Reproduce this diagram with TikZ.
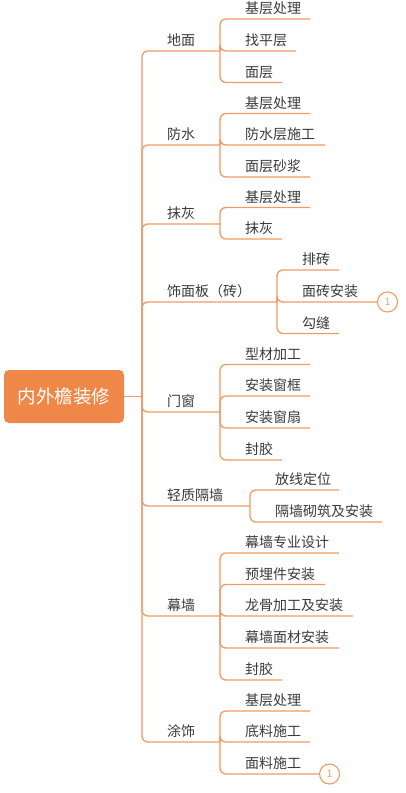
\documentclass[tikz,border=0pt]{standalone}
\usepackage{fontspec}
\newfontfamily\cjk{Noto Sans CJK SC}
\definecolor{org}{HTML}{EF8748}
\definecolor{ln}{HTML}{F09A64}
\definecolor{tx}{HTML}{3A3A3A}
\begin{document}
\begin{tikzpicture}[x=1pt,y=-1pt,
  conn/.style={draw=ln,line width=1.3pt,rounded corners=6pt},
  lab/.style={anchor=south west,inner sep=0pt,text=tx,font=\cjk\fontsize{14}{14}\selectfont,yshift=4pt},
  badge/.style={circle,draw=ln,line width=1.1pt,fill=white,minimum size=20pt,inner sep=0pt,text=ln,font=\cjk\fontsize{10}{10}\selectfont}]
\useasboundingbox (0,0) rectangle (406,793);
\node[fill=org,rounded corners=5pt,minimum width=120pt,minimum height=53pt,inner sep=0pt,text=white,font=\cjk\fontsize{18.5}{18.5}\selectfont] (root) at (64,396.5) {内外檐装修};
\coordinate (tr) at (142,396.5);
\draw[conn] (root.east) -- (tr);
% level 1
\foreach \n/\y/\e/\t in {a/51/220/地面,b/145/220/防水,c/224/220/抹灰,d/302/277/饰面板（砖）,e/412/220/门窗,f/506/250/轻质隔墙,g/616/220/幕墙,h/742/220/涂饰}{
  \coordinate (\n s) at (142,\y);
  \coordinate (\n) at (\e,\y);
  \draw[conn] (tr) |- (\n);
  \node[lab] (\n l) at (167,\y) {\t};
}
% level 2 helper
\newcommand\kid[5]{%
  \coordinate (#2) at (#4,#3);
  \draw[conn] (#1) |- (#2);
  \node[lab] (#2l) at ([xshift=25pt]#1 |- #2) {#5};
}
\kid{a}{a1}{19}{310}{基层处理}
\kid{a}{a2}{51}{296}{找平层}
\kid{a}{a3}{82.5}{282}{面层}
\kid{b}{b1}{113.5}{310}{基层处理}
\kid{b}{b2}{145}{325}{防水层施工}
\kid{b}{b3}{177}{310}{面层砂浆}
\kid{c}{c1}{207.5}{310}{基层处理}
\kid{c}{c2}{239}{282}{抹灰}
\kid{d}{d1}{270}{339}{排砖}
\kid{d}{d2}{302}{377}{面砖安装}
\kid{d}{d3}{333.5}{339}{勾缝}
\kid{e}{e1}{364.5}{310}{型材加工}
\kid{e}{e2}{396}{310}{安装窗框}
\kid{e}{e3}{428}{310}{安装窗扇}
\kid{e}{e4}{460}{282}{封胶}
\kid{f}{f1}{490}{339}{放线定位}
\kid{f}{f2}{522}{382}{隔墙砌筑及安装}
\kid{g}{g1}{553}{339}{幕墙专业设计}
\kid{g}{g2}{584.5}{325}{预埋件安装}
\kid{g}{g3}{616}{353}{龙骨加工及安装}
\kid{g}{g4}{648}{339}{幕墙面材安装}
\kid{g}{g5}{680}{282}{封胶}
\kid{h}{h1}{711}{310}{基层处理}
\kid{h}{h2}{742}{310}{底料施工}
\kid{h}{h3}{774}{319}{面料施工}
\node[badge,anchor=west] (m1) at (d2) {1};
\node[badge,anchor=west] (m2) at (h3) {1};
\end{tikzpicture}
\end{document}
